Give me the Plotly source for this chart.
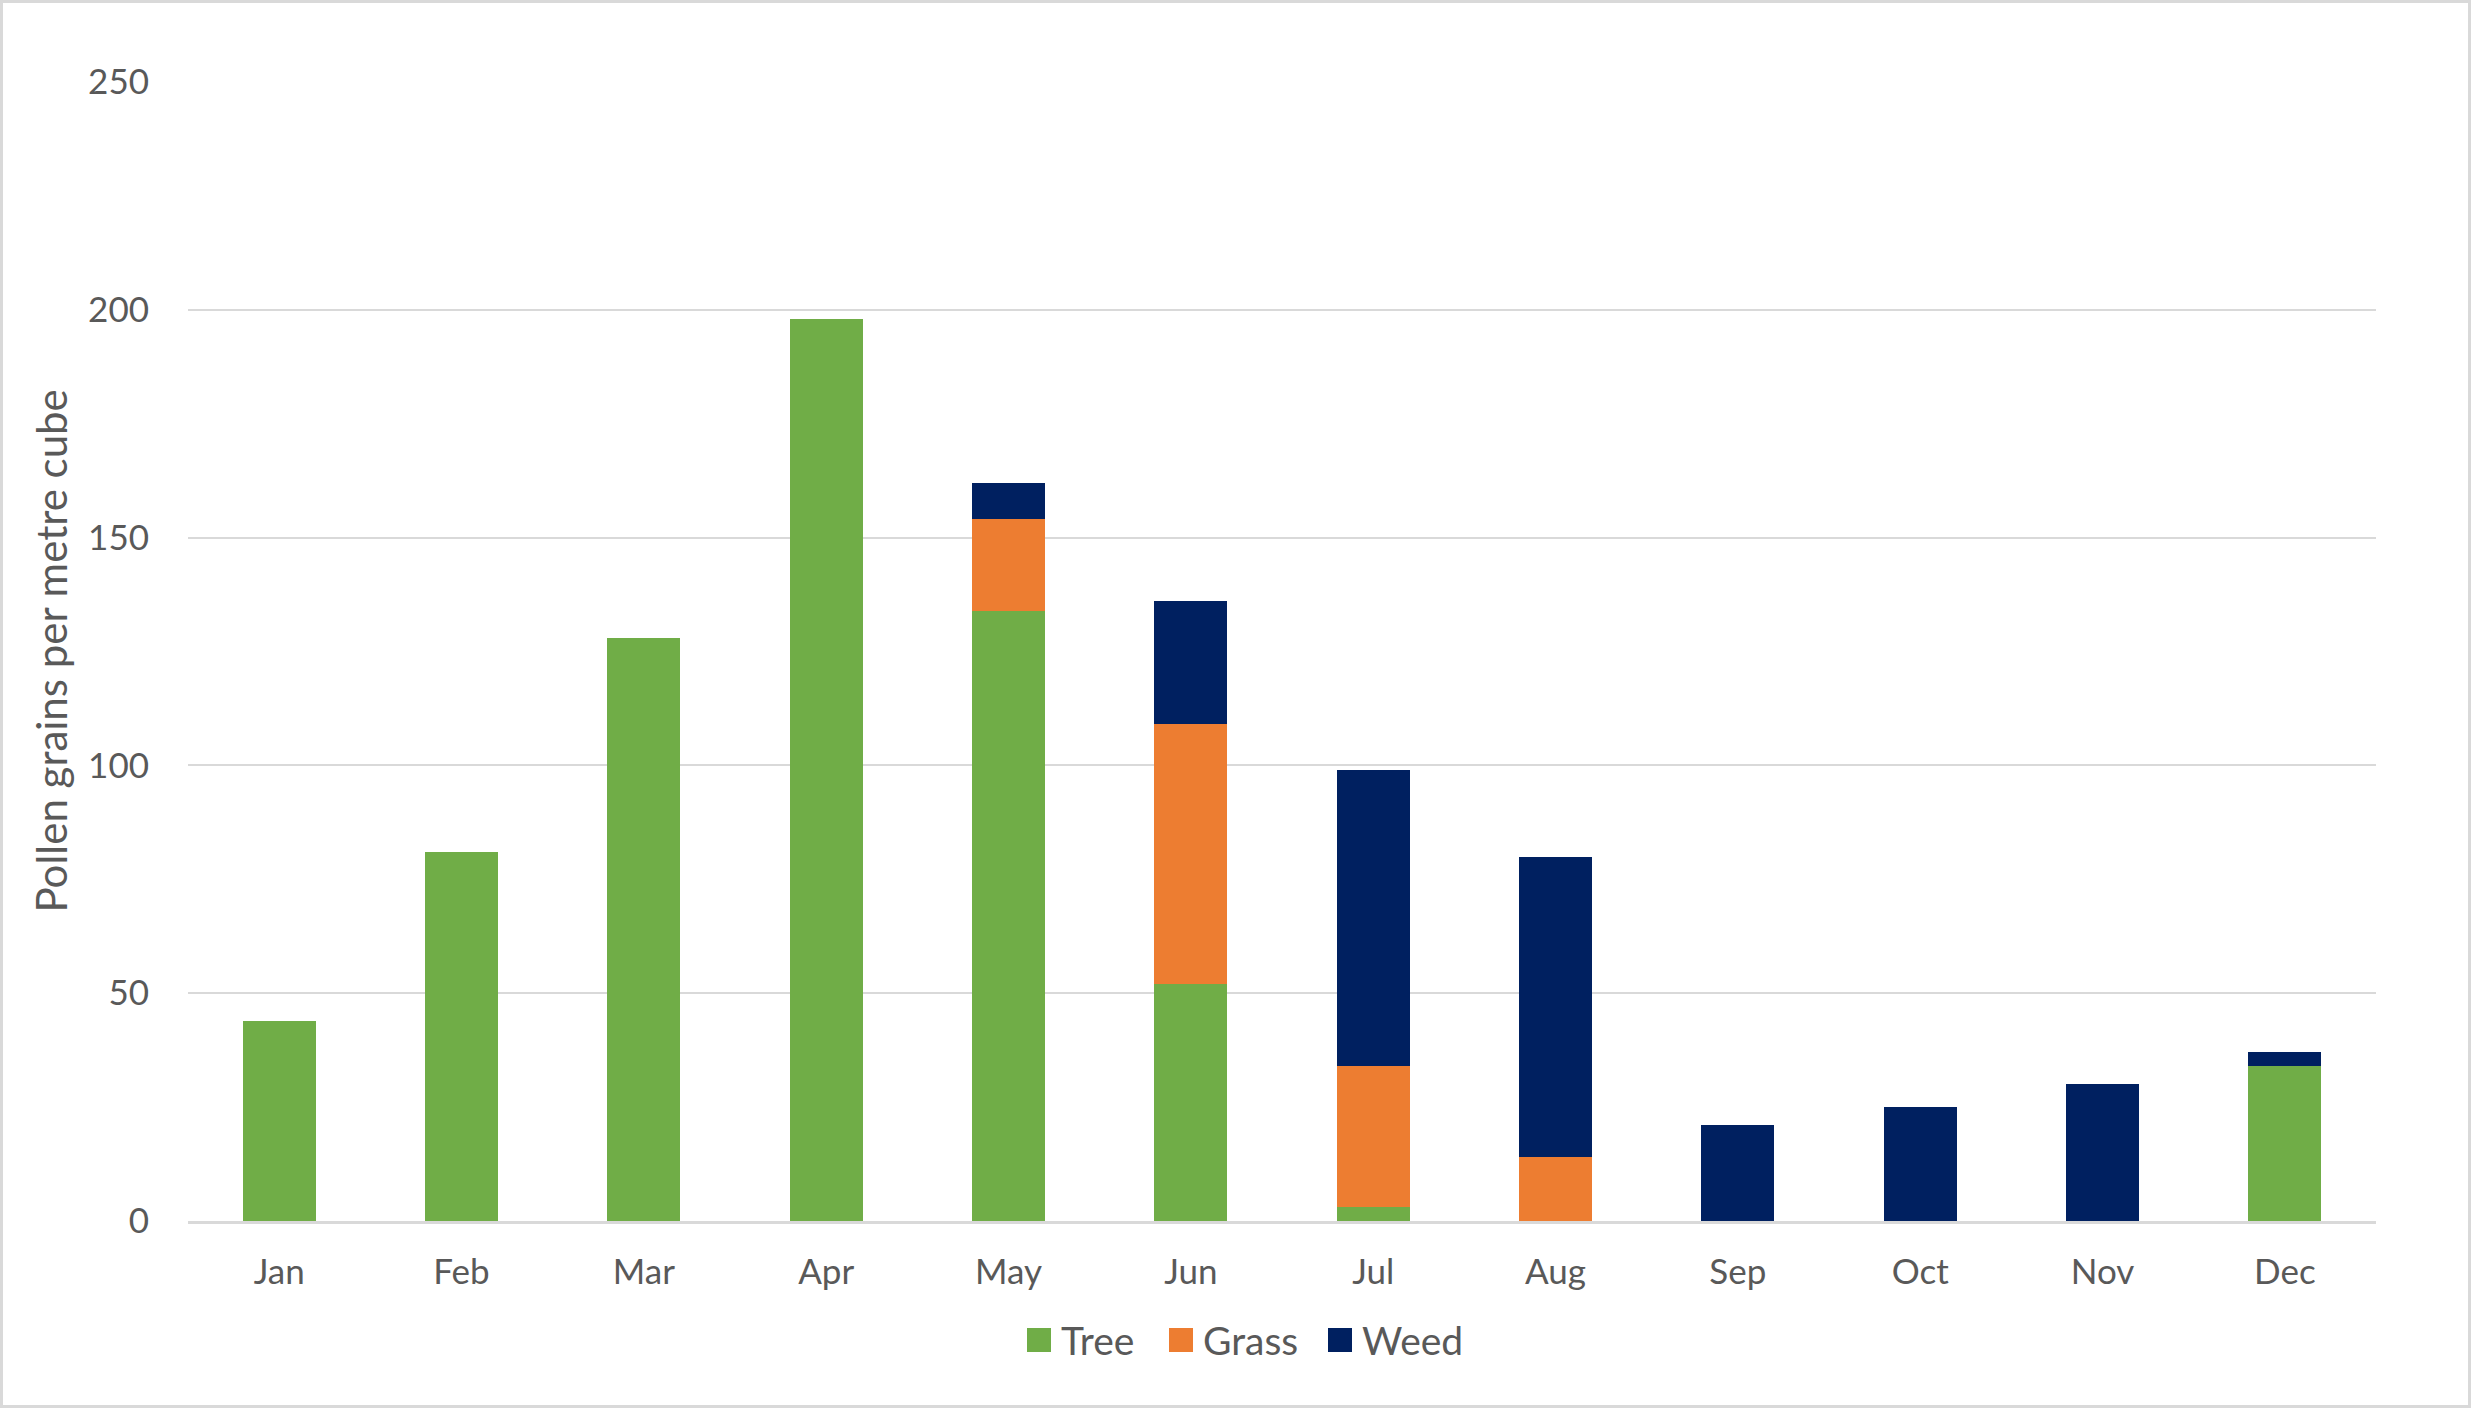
import plotly.graph_objects as go

months = ["Jan", "Feb", "Mar", "Apr", "May", "Jun", "Jul", "Aug", "Sep", "Oct", "Nov", "Dec"]
tree = [44, 81, 128, 198, 134, 52, 3, 0, 0, 0, 0, 34]
grass = [0, 0, 0, 0, 20, 57, 31, 14, 0, 0, 0, 0]
weed = [0, 0, 0, 0, 8, 27, 65, 66, 21, 25, 30, 3]
y_ticks = [0, 50, 100, 150, 200, 250]

W, H = 2471, 1408
L, R, T, B = 188, 95, 82, 187
pw, ph = W - L - R, H - T - B
FONT = "Lato, 'Open Sans', sans-serif"
TXT = "#595959"


def px(x):
    return (x - L) / pw


def py(y):
    return (H - B - y) / ph


series = [("Tree", tree, "#70AD47"), ("Grass", grass, "#ED7D31"), ("Weed", weed, "#002060")]

fig = go.Figure()
for name, vals, col in series:
    fig.add_trace(go.Bar(x=months, y=vals, name=name, showlegend=False,
                         marker=dict(color=col, line=dict(width=0))))

# manual legend (larger square keys like the original)
leg_sq_x = [1027, 1169, 1328]
leg_y = 1340
sq = 24
shapes = [dict(type="rect", xref="paper", yref="paper",
               x0=px(1.5), x1=px(W - 1.5), y0=py(H - 1.5), y1=py(1.5),
               line=dict(color="#d9d9d9", width=3), layer="below")]
annotations = [dict(text="Pollen grains per metre cube", xref="paper", yref="paper",
                    x=px(50), y=0.5, xanchor="center", yanchor="middle",
                    textangle=-90, showarrow=False, font=dict(size=42, color=TXT))]
for (name, _, col), sx in zip(series, leg_sq_x):
    shapes.append(dict(type="rect", xref="paper", yref="paper",
                       x0=px(sx), x1=px(sx + sq), y0=py(leg_y + sq / 2), y1=py(leg_y - sq / 2),
                       fillcolor=col, line=dict(width=0)))
    annotations.append(dict(text=name, xref="paper", yref="paper", x=px(sx + sq + 8), y=py(leg_y),
                            xanchor="left", yanchor="middle", showarrow=False,
                            font=dict(size=39, color=TXT)))

fig.update_layout(
    width=W, height=H,
    margin=dict(l=L, r=R, t=T, b=B),
    barmode="stack", bargap=0.6,
    plot_bgcolor="white", paper_bgcolor="white",
    font=dict(family=FONT, size=35, color=TXT),
    showlegend=False,
    xaxis=dict(showgrid=False, showline=True, linecolor="#d9d9d9", linewidth=3, ticks="",
               tickfont=dict(size=35, color=TXT), ticklabelstandoff=18),
    yaxis=dict(range=[0, 250], tickvals=y_ticks, showgrid=True, gridcolor="#d9d9d9", gridwidth=2,
               zeroline=False, showline=False, ticks="", tickfont=dict(size=35, color=TXT),
               ticklabelstandoff=38),
    annotations=annotations,
    shapes=shapes,
)

fig.write_html("out.html", config={"displayModeBar": False},
               post_script="document.body.style.margin='0';document.body.style.overflow='hidden';")
